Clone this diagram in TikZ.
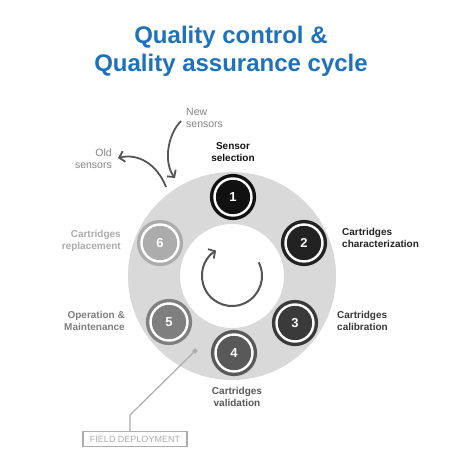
\documentclass[tikz,border=0pt]{standalone}
\usepackage{fontspec}
\setmainfont{Liberation Sans}
\usetikzlibrary{arrows.meta, shapes.geometric}

\definecolor{qcblue}{HTML}{1D72BC}
\definecolor{ringgray}{HTML}{D9D9D9}
\definecolor{c1}{HTML}{111111}
\definecolor{c2}{HTML}{222222}
\definecolor{c3}{HTML}{3A3A3A}
\definecolor{c4}{HTML}{595959}
\definecolor{c5}{HTML}{7F7F7F}
\definecolor{c6}{HTML}{ACACAC}
\definecolor{arrowgray}{HTML}{555555}
\definecolor{notegray}{HTML}{858585}
\definecolor{fieldgray}{HTML}{ADADAD}

\begin{document}
\begin{tikzpicture}[x=1pt, y=1pt,
  stage/.style={circle, fill=#1, draw=#1, double=white, double distance=2.4pt,
    line width=3.4pt, minimum size=37pt, inner sep=0pt, text=white,
    font=\bfseries\fontsize{13}{13}\selectfont},
  lbl/.style={text=#1, inner sep=0pt, font=\bfseries\fontsize{10}{12}\selectfont},
  note/.style={text=notegray, inner sep=0pt, font=\fontsize{10.5}{12}\selectfont},
  feed/.style={draw=arrowgray, line width=1.8pt,
    -{Straight Barb[length=5pt, width=11pt, line width=1.8pt]}},
]
\useasboundingbox (0,0) rectangle (474,474);
\fill[white] (0,0) rectangle (474,474);

\node[text=qcblue, align=center, font=\bfseries\fontsize{24}{28}\selectfont] (title) at (231,423) {Quality control \&\\Quality assurance cycle};

% Ring and centre arrow:
\coordinate (c) at (232,198);
\draw[ringgray, line width=52pt] (c) circle[radius=78];
\draw[feed, line width=2pt] ([shift={(27:30)}]c) arc[start angle=27, end angle=-238, radius=30];

% Stages:
\node[stage=c1] (s1) at (233,277) {1};
\node[stage=c2] (s2) at (304,231) {2};
\node[stage=c3] (s3) at (295,151) {3};
\node[stage=c4] (s4) at (234,121) {4};
\node[stage=c5] (s5) at (169,152) {5};
\node[stage=c6] (s6) at (160,231) {6};

\node[lbl=c1, align=center] (l1) at (233,322) {Sensor\\selection};
\node[lbl=c2, align=left, anchor=west] (l2) at (342,236) {Cartridges\\characterization};
\node[lbl=c3, align=left, anchor=west] (l3) at (337,153) {Cartridges\\calibration};
\node[lbl=c4, align=center] (l4) at (237,77) {Cartridges\\validation};
\node[lbl=c5, align=right, anchor=east] (l5) at (125,153) {Operation \&\\Maintenance};
\node[lbl=c6, align=right, anchor=east] (l6) at (121,233) {Cartridges\\replacement};

% Sensors in and out:
\node[note, align=left, anchor=west] (new) at (186,356) {New\\sensors};
\node[note, align=right, anchor=east] (old) at (112,315) {Old\\sensors};
\coordinate (newa) at (181,353);
\coordinate (newb) at (175,296);
\coordinate (olda) at (166,287);
\coordinate (oldb) at (118,316);
\draw[feed] (newa) .. controls (168,340) and (163,312) .. (newb);
\draw[feed] (olda) .. controls (157,310) and (138,321) .. (oldb);

% Field deployment:
\node[draw=fieldgray, line width=1.2pt, minimum width=104pt, minimum height=15pt, inner sep=0pt,
  text=fieldgray, font=\fontsize{9}{9}\selectfont] (fd) at (135,35) {FIELD DEPLOYMENT};
\node[diamond, fill=fieldgray, minimum size=6pt, inner sep=0pt] (pin) at (195,123) {};
\coordinate (bend) at (130,59);
\draw[fieldgray, line width=1.2pt] (pin) -- (bend) -- (bend |- fd.north);
\end{tikzpicture}
\end{document}
